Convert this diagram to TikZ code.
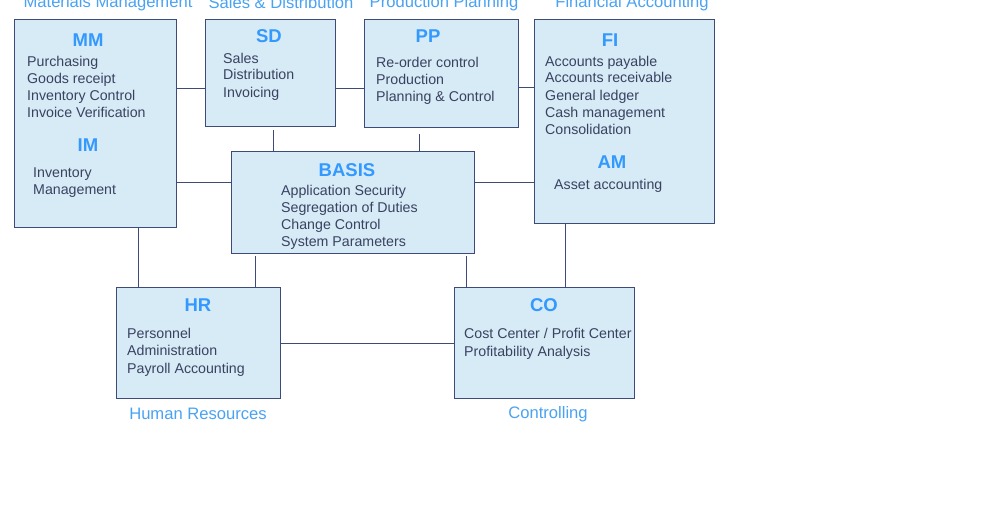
\documentclass[tikz,border=0pt]{standalone}
\usepackage{fontspec}
\setmainfont{Liberation Sans}
\definecolor{boxfill}{HTML}{D6EBF5}
\definecolor{boxline}{HTML}{3E4A78}
\definecolor{headblue}{HTML}{3399FF}
\definecolor{labblue}{HTML}{4AA2F2}
\definecolor{bodytext}{HTML}{3A4262}
\tikzset{
  modbox/.style={draw=boxline, fill=boxfill, line width=1pt, inner sep=0pt},
  conn/.style={draw=boxline, line width=1pt},
  head/.style={text=headblue, font=\fontsize{18.5}{20}\selectfont\bfseries, inner sep=0pt},
  body/.style={text=bodytext, font=\fontsize{14.2}{17}\selectfont, inner sep=0pt, anchor=mid west, yshift=-2.5pt},
  lab/.style={text=labblue, font=\fontsize{16.6}{18}\selectfont, inner sep=0pt}
}
\begin{document}
\begin{tikzpicture}[x=1pt,y=-1pt]
\useasboundingbox (0,0) rectangle (990,520);
% boxes
\path[modbox] (14,19) rectangle (176,227);
\path[modbox] (205,19) rectangle (335,126);
\path[modbox] (364,19) rectangle (518,127);
\path[modbox] (534,19) rectangle (714,223);
\path[modbox] (231,151) rectangle (474,253);
\path[modbox] (116,287) rectangle (280,398);
\path[modbox] (454,287) rectangle (634,398);
% named points on box edges
\coordinate (mmR1) at (176,88);
\coordinate (sdL1) at (205,88);
\coordinate (sdR1) at (335,88);
\coordinate (ppL1) at (364,88);
\coordinate (ppR1) at (518,87);
\coordinate (fiL1) at (534,87);
\coordinate (sdB) at (273,130);
\coordinate (basT1) at (273,151);
\coordinate (ppB) at (419,134);
\coordinate (basT2) at (419,151);
\coordinate (mmR2) at (176,182);
\coordinate (basL) at (231,182);
\coordinate (basR) at (474,182);
\coordinate (fiL2) at (534,182);
\coordinate (mmB) at (138,227);
\coordinate (hrT1) at (138,287);
\coordinate (basB1) at (255,256);
\coordinate (hrT2) at (255,287);
\coordinate (basB2) at (466,256);
\coordinate (coT1) at (466,287);
\coordinate (fiB) at (565,223);
\coordinate (coT2) at (565,287);
\coordinate (hrR) at (280,343);
\coordinate (coL) at (454,343);
% connectors
\draw[conn] (mmR1) -- (sdL1);
\draw[conn] (sdR1) -- (ppL1);
\draw[conn] (ppR1) -- (fiL1);
\draw[conn] (sdB) -- (basT1);
\draw[conn] (ppB) -- (basT2);
\draw[conn] (mmR2) -- (basL);
\draw[conn] (basR) -- (fiL2);
\draw[conn] (mmB) -- (hrT1);
\draw[conn] (basB1) -- (hrT2);
\draw[conn] (basB2) -- (coT1);
\draw[conn] (fiB) -- (coT2);
\draw[conn] (hrR) -- (coL);
% headings
\node[head] (hMM) at (88,40) {MM};
\node[head] (hIM) at (88,145) {IM};
\node[head] (hSD) at (269,36) {SD};
\node[head] (hPP) at (428,36) {PP};
\node[head] (hFI) at (610,40) {FI};
\node[head] (hAM) at (612,162) {AM};
\node[head] (hBA) at (347,170) {BASIS};
\node[head] (hHR) at (198,305) {HR};
\node[head] (hCO) at (544,305) {CO};
% body texts
\foreach \t [count=\i] in {Purchasing, Goods receipt, Inventory Control, Invoice Verification}
  \node[body] (mm\i) at (27,{61+17*(\i-1)}) {\t};
\foreach \t [count=\i] in {Inventory, Management}
  \node[body] (im\i) at (33,{172+17*(\i-1)}) {\t};
\node[body] (sd1) at (223,58) {Sales};
\node[body] (sd2) at (223,74) {Distribution};
\node[body] (sd3) at (223,92) {Invoicing};
\foreach \t [count=\i] in {Re-order control, Production, Planning \& Control}
  \node[body] (pp\i) at (376,{62+17*(\i-1)}) {\t};
\node[body] (fi1) at (545,61) {Accounts payable};
\node[body] (fi2) at (545,77) {Accounts receivable};
\node[body] (fi3) at (545,95) {General ledger};
\node[body] (fi4) at (545,112) {Cash management};
\node[body] (fi5) at (545,129) {Consolidation};
\node[body] (am1) at (554,184) {Asset accounting};
\foreach \t [count=\i] in {Application Security, Segregation of Duties, Change Control, System Parameters}
  \node[body] (ba\i) at (281,{190+17*(\i-1)}) {\t};
\foreach \t [count=\i] in {Personnel, Administration, Payroll Accounting}
  \node[body] (hr\i) at (127,{333+17.5*(\i-1)}) {\t};
\node[body] (co1) at (464,333) {Cost Center / Profit Center};
\node[body] (co2) at (464,351) {Profitability Analysis};
% labels
\node[lab] (lMM) at (108,3) {Materials Management};
\node[lab] (lSD) at (281,3) {Sales \& Distribution};
\node[lab] (lPP) at (444,3) {Production Planning};
\node[lab] (lFI) at (632,3) {Financial Accounting};
\node[lab] (lHR) at (198,414) {Human Resources};
\node[lab] (lCO) at (548,414) {Controlling};
\end{tikzpicture}
\end{document}
